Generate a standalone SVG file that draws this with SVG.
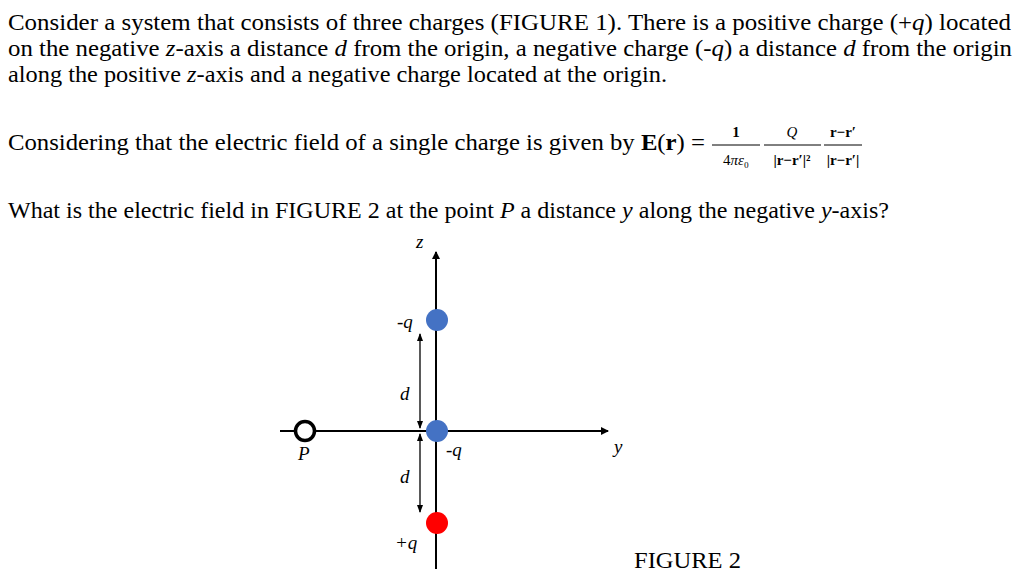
<svg xmlns="http://www.w3.org/2000/svg" width="1024" height="584" viewBox="0 0 1024 584">
<style>
text{font-family:"Liberation Serif",serif;fill:#000}
.t{font-size:23px}
.f{font-size:15px}
.l{font-size:19px;font-style:italic}
.ax{stroke:#000;stroke-width:2;fill:none}
.dim{stroke:#000;stroke-width:1.3;fill:none}
</style>
<defs>
<marker id="ah" markerWidth="8" markerHeight="8" refX="7" refY="4" orient="auto" markerUnits="userSpaceOnUse"><path d="M0,0L8,4L0,8z" fill="#000"/></marker>
<marker id="dh" markerWidth="8" markerHeight="8" refX="7" refY="4" orient="auto-start-reverse" markerUnits="userSpaceOnUse"><path d="M0,1L8,4L0,7z" fill="#000"/></marker>
</defs>
<g id="text">
<text class="t" x="8" y="30" textLength="1003" lengthAdjust="spacingAndGlyphs">Consider a system that consists of three charges (FIGURE 1). There is a positive charge (+<tspan font-style="italic">q</tspan>) located</text>
<text class="t" x="8" y="56" textLength="1004" lengthAdjust="spacingAndGlyphs">on the negative <tspan font-style="italic">z</tspan>-axis a distance <tspan font-style="italic">d</tspan> from the origin, a negative charge (-<tspan font-style="italic">q</tspan>) a distance <tspan font-style="italic">d</tspan> from the origin</text>
<text class="t" x="8" y="82" textLength="659" lengthAdjust="spacingAndGlyphs">along the positive <tspan font-style="italic">z</tspan>-axis and a negative charge located at the origin.</text>
<text class="t" x="8" y="150" textLength="697" lengthAdjust="spacingAndGlyphs">Considering that the electric field of a single charge is given by <tspan font-weight="bold">E</tspan>(<tspan font-weight="bold">r</tspan>) =</text>
<text class="f" x="736" y="137" text-anchor="middle" font-weight="bold">1</text>
<line x1="712" y1="145" x2="760" y2="145" stroke="#000" stroke-width="1"/>
<text class="f" x="736" y="165" text-anchor="middle">4<tspan font-style="italic">πε</tspan>₀</text>
<text class="f" x="792" y="137" text-anchor="middle" font-style="italic">Q</text>
<line x1="764" y1="145" x2="821" y2="145" stroke="#000" stroke-width="1"/>
<text class="f" x="792" y="165" text-anchor="middle" font-weight="bold">|r−r′|²</text>
<text class="f" x="843" y="137" text-anchor="middle" font-weight="bold">r−r′</text>
<line x1="824" y1="145" x2="862" y2="145" stroke="#000" stroke-width="1"/>
<text class="f" x="843" y="165" text-anchor="middle" font-weight="bold">|r−r′|</text>
<text class="t" x="8" y="218" textLength="881" lengthAdjust="spacingAndGlyphs">What is the electric field in FIGURE 2 at the point <tspan font-style="italic">P</tspan> a distance <tspan font-style="italic">y</tspan> along the negative <tspan font-style="italic">y</tspan>-axis?</text>
<text class="t" x="634" y="568" textLength="107" lengthAdjust="spacingAndGlyphs">FIGURE 2</text>
</g>
<g id="connectors">
<line class="ax" x1="436" y1="569" x2="436" y2="252" marker-end="url(#ah)"/>
<line class="ax" x1="280" y1="431" x2="608" y2="431" marker-end="url(#ah)"/>
<line class="dim" x1="420" y1="334" x2="420" y2="428" marker-start="url(#dh)" marker-end="url(#dh)"/>
<line class="dim" x1="420" y1="434" x2="420" y2="512" marker-start="url(#dh)" marker-end="url(#dh)"/>
</g>
<g id="charge-top"><circle cx="437" cy="320" r="11" fill="#4472C4"/><text class="l" x="397" y="328">-q</text></g>
<g id="charge-origin"><circle cx="437" cy="431" r="11" fill="#4472C4"/><text class="l" x="446" y="456">-q</text></g>
<g id="charge-bottom"><circle cx="437" cy="523" r="11" fill="#FF0000"/><text class="l" x="395" y="549">+q</text></g>
<g id="point-P"><circle cx="305" cy="431" r="9.5" fill="#fff" stroke="#000" stroke-width="3.5"/><text class="l" x="298" y="460">P</text></g>
<text class="l" x="400" y="400">d</text>
<text class="l" x="400" y="483">d</text>
<text class="l" x="614" y="453">y</text>
<text class="l" x="416" y="248">z</text>
</svg>
